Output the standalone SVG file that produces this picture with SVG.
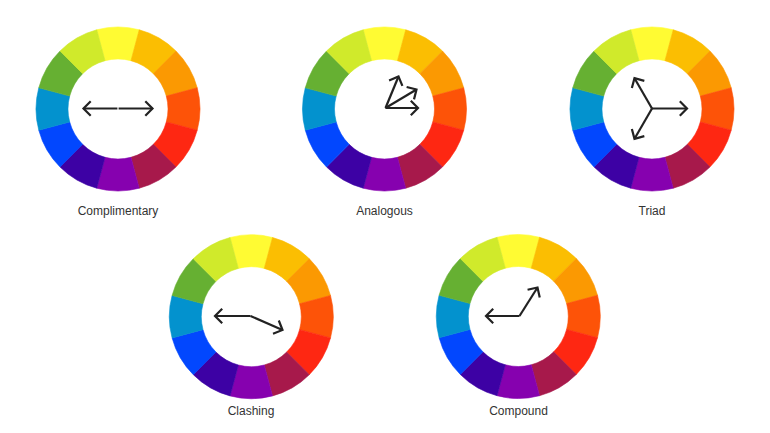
<svg xmlns="http://www.w3.org/2000/svg" xmlns:xlink="http://www.w3.org/1999/xlink" width="770" height="433" viewBox="0 0 770 433">
<style>
.lbl{font-family:"Liberation Sans",Arial,sans-serif;font-size:12px;fill:#333;text-anchor:middle}
.arr{fill:none;stroke:#222;stroke-width:2.2;marker-end:url(#ah)}
.seg{stroke-width:0.6}
</style>
<defs>
<marker id="ah" markerUnits="userSpaceOnUse" markerWidth="20" markerHeight="20" viewBox="0 0 20 20" refX="10" refY="10" orient="auto" overflow="visible">
<path d="M2.8,2.8 L10,10 L2.8,17.2" fill="none" stroke="#222" stroke-width="2.2"/>
</marker>
<g id="wheel">
<path class="seg" fill="#FFFB33" stroke="#FFFB33" d="M-21.22,-79.21 A82,82 0 0 1 21.22,-79.21 L12.94,-48.3 A50,50 0 0 0 -12.94,-48.3 Z"/>
<path class="seg" fill="#FBBE02" stroke="#FBBE02" d="M21.22,-79.21 A82,82 0 0 1 57.98,-57.98 L35.36,-35.36 A50,50 0 0 0 12.94,-48.3 Z"/>
<path class="seg" fill="#FB9902" stroke="#FB9902" d="M57.98,-57.98 A82,82 0 0 1 79.21,-21.22 L48.3,-12.94 A50,50 0 0 0 35.36,-35.36 Z"/>
<path class="seg" fill="#FD5308" stroke="#FD5308" d="M79.21,-21.22 A82,82 0 0 1 79.21,21.22 L48.3,12.94 A50,50 0 0 0 48.3,-12.94 Z"/>
<path class="seg" fill="#FE2712" stroke="#FE2712" d="M79.21,21.22 A82,82 0 0 1 57.98,57.98 L35.36,35.36 A50,50 0 0 0 48.3,12.94 Z"/>
<path class="seg" fill="#A7194B" stroke="#A7194B" d="M57.98,57.98 A82,82 0 0 1 21.22,79.21 L12.94,48.3 A50,50 0 0 0 35.36,35.36 Z"/>
<path class="seg" fill="#8601AF" stroke="#8601AF" d="M21.22,79.21 A82,82 0 0 1 -21.22,79.21 L-12.94,48.3 A50,50 0 0 0 12.94,48.3 Z"/>
<path class="seg" fill="#3D01A4" stroke="#3D01A4" d="M-21.22,79.21 A82,82 0 0 1 -57.98,57.98 L-35.36,35.36 A50,50 0 0 0 -12.94,48.3 Z"/>
<path class="seg" fill="#0247FE" stroke="#0247FE" d="M-57.98,57.98 A82,82 0 0 1 -79.21,21.22 L-48.3,12.94 A50,50 0 0 0 -35.36,35.36 Z"/>
<path class="seg" fill="#0392CE" stroke="#0392CE" d="M-79.21,21.22 A82,82 0 0 1 -79.21,-21.22 L-48.3,-12.94 A50,50 0 0 0 -48.3,12.94 Z"/>
<path class="seg" fill="#66B032" stroke="#66B032" d="M-79.21,-21.22 A82,82 0 0 1 -57.98,-57.98 L-35.36,-35.36 A50,50 0 0 0 -48.3,-12.94 Z"/>
<path class="seg" fill="#D0EA2B" stroke="#D0EA2B" d="M-57.98,-57.98 A82,82 0 0 1 -21.22,-79.21 L-12.94,-48.3 A50,50 0 0 0 -35.36,-35.36 Z"/>
</g>
</defs>
<rect width="770" height="433" fill="#fff"/>
<g id="complimentary">
<use href="#wheel" xlink:href="#wheel" transform="translate(118,109)"/>
<text class="lbl" x="118" y="214.5">Complimentary</text>
</g>
<g id="analogous">
<use href="#wheel" xlink:href="#wheel" transform="translate(384.5,109)"/>
<text class="lbl" x="384.5" y="214.5">Analogous</text>
</g>
<g id="triad">
<use href="#wheel" xlink:href="#wheel" transform="translate(652,109)"/>
<text class="lbl" x="652" y="214.5">Triad</text>
</g>
<g id="clashing">
<use href="#wheel" xlink:href="#wheel" transform="translate(251.3,316.7)"/>
<text class="lbl" x="251" y="414.5">Clashing</text>
</g>
<g id="compound">
<use href="#wheel" xlink:href="#wheel" transform="translate(518.3,316.5)"/>
<text class="lbl" x="518.5" y="414.5">Compound</text>
</g>
<g id="connectors">
<line class="arr" x1="117.4" y1="108.5" x2="83.5" y2="108.5"/>
<line class="arr" x1="118.6" y1="108.5" x2="152.5" y2="108.5"/>
<line class="arr" x1="385.5" y1="108" x2="398.5" y2="76.5"/>
<line class="arr" x1="385.5" y1="108" x2="416.5" y2="89.5"/>
<line class="arr" x1="385.5" y1="108" x2="418" y2="108"/>
<line class="arr" x1="652" y1="108.5" x2="687" y2="108.5"/>
<line class="arr" x1="652" y1="108.5" x2="634.5" y2="78.2"/>
<line class="arr" x1="652" y1="108.5" x2="634.5" y2="138.8"/>
<line class="arr" x1="250.5" y1="316" x2="215" y2="316"/>
<line class="arr" x1="250.5" y1="316" x2="282.5" y2="330"/>
<line class="arr" x1="519.5" y1="316" x2="486" y2="316"/>
<line class="arr" x1="519.5" y1="316" x2="537.5" y2="287.5"/>
</g>
</svg>
